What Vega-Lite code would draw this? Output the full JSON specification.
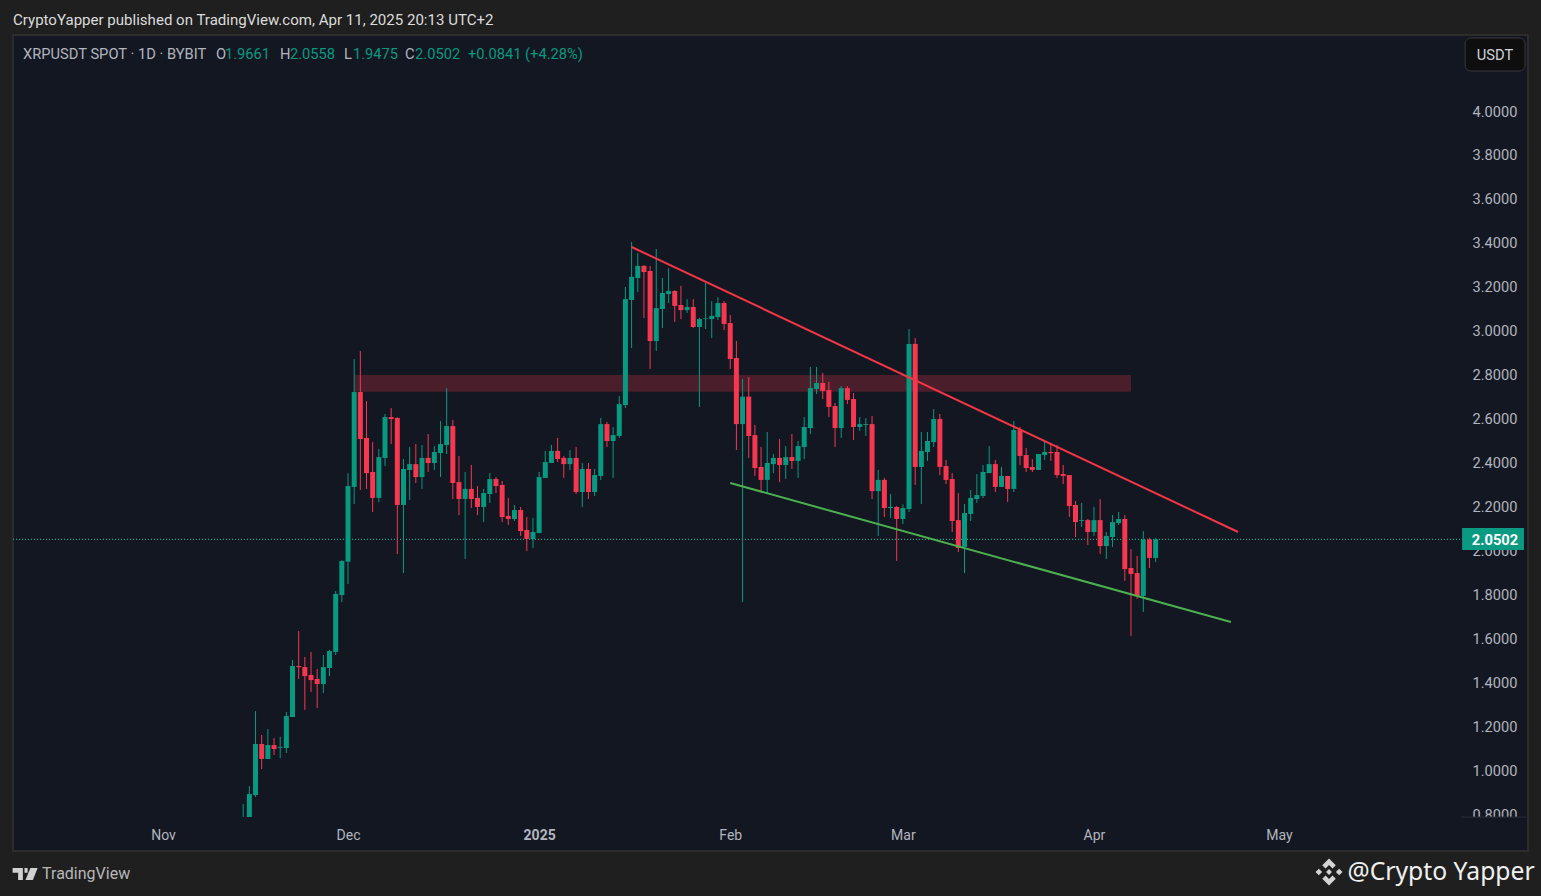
{
  "$schema": "https://vega.github.io/schema/vega-lite/v6.json",
  "width": 1515,
  "height": 816,
  "autosize": "none",
  "padding": {"left": 13, "top": 35, "right": 13, "bottom": 45},
  "background": "#1f1f1f",
  "title": {
    "text": "CryptoYapper published on TradingView.com, Apr 11, 2025 20:13 UTC+2",
    "anchor": "start",
    "frame": "group",
    "offset": 7,
    "font": "Roboto",
    "fontSize": 15.06,
    "fontWeight": "normal",
    "color": "#dcdcdc"
  },
  "config": {
    "view": {"fill": "#131722", "stroke": "#2c2c2c", "strokeWidth": 2},
    "axis": {"grid": false, "domain": false, "ticks": false, "title": null, "labelFont": "Roboto", "labelFontSize": 14, "labelColor": "#b2b5be"},
    "text": {"font": "Roboto", "fontSize": 14.7, "align": "left", "baseline": "middle"}
  },
  "datasets": {
    "candles": [
      {"date":"2024-11-14","open":0.74,"high":0.846,"low":0.73,"close":0.78},
      {"date":"2024-11-15","open":0.78,"high":0.928,"low":0.77,"close":0.891},
      {"date":"2024-11-16","open":0.887,"high":1.269,"low":0.878,"close":1.119},
      {"date":"2024-11-17","open":1.119,"high":1.16,"low":1.005,"close":1.051},
      {"date":"2024-11-18","open":1.051,"high":1.187,"low":1.051,"close":1.114},
      {"date":"2024-11-19","open":1.114,"high":1.146,"low":1.069,"close":1.096},
      {"date":"2024-11-20","open":1.102,"high":1.152,"low":1.055,"close":1.106},
      {"date":"2024-11-21","open":1.101,"high":1.265,"low":1.078,"close":1.246},
      {"date":"2024-11-22","open":1.242,"high":1.501,"low":1.242,"close":1.474},
      {"date":"2024-11-23","open":1.474,"high":1.633,"low":1.415,"close":1.469},
      {"date":"2024-11-24","open":1.469,"high":1.515,"low":1.274,"close":1.428},
      {"date":"2024-11-25","open":1.433,"high":1.538,"low":1.356,"close":1.41},
      {"date":"2024-11-26","open":1.415,"high":1.46,"low":1.283,"close":1.392},
      {"date":"2024-11-27","open":1.392,"high":1.524,"low":1.351,"close":1.469},
      {"date":"2024-11-28","open":1.465,"high":1.547,"low":1.428,"close":1.542},
      {"date":"2024-11-29","open":1.538,"high":1.815,"low":1.524,"close":1.802},
      {"date":"2024-11-30","open":1.797,"high":1.956,"low":1.765,"close":1.952},
      {"date":"2024-12-01","open":1.949,"high":2.351,"low":1.847,"close":2.293},
      {"date":"2024-12-02","open":2.289,"high":2.871,"low":2.211,"close":2.721},
      {"date":"2024-12-03","open":2.721,"high":2.908,"low":2.275,"close":2.507},
      {"date":"2024-12-04","open":2.512,"high":2.68,"low":2.28,"close":2.352},
      {"date":"2024-12-05","open":2.357,"high":2.493,"low":2.175,"close":2.239},
      {"date":"2024-12-06","open":2.239,"high":2.462,"low":2.22,"close":2.425},
      {"date":"2024-12-07","open":2.421,"high":2.621,"low":2.384,"close":2.607},
      {"date":"2024-12-08","open":2.607,"high":2.648,"low":2.484,"close":2.598},
      {"date":"2024-12-09","open":2.603,"high":2.607,"low":1.984,"close":2.207},
      {"date":"2024-12-10","open":2.207,"high":2.416,"low":1.897,"close":2.371},
      {"date":"2024-12-11","open":2.366,"high":2.471,"low":2.229,"close":2.393},
      {"date":"2024-12-12","open":2.393,"high":2.484,"low":2.307,"close":2.334},
      {"date":"2024-12-13","open":2.334,"high":2.48,"low":2.28,"close":2.421},
      {"date":"2024-12-14","open":2.421,"high":2.53,"low":2.357,"close":2.398},
      {"date":"2024-12-15","open":2.398,"high":2.475,"low":2.366,"close":2.448},
      {"date":"2024-12-16","open":2.443,"high":2.589,"low":2.334,"close":2.484},
      {"date":"2024-12-17","open":2.48,"high":2.739,"low":2.439,"close":2.566},
      {"date":"2024-12-18","open":2.566,"high":2.594,"low":2.234,"close":2.307},
      {"date":"2024-12-19","open":2.311,"high":2.43,"low":2.161,"close":2.234},
      {"date":"2024-12-20","open":2.234,"high":2.357,"low":1.961,"close":2.28},
      {"date":"2024-12-21","open":2.28,"high":2.389,"low":2.193,"close":2.234},
      {"date":"2024-12-22","open":2.239,"high":2.293,"low":2.161,"close":2.198},
      {"date":"2024-12-23","open":2.198,"high":2.28,"low":2.129,"close":2.261},
      {"date":"2024-12-24","open":2.257,"high":2.352,"low":2.216,"close":2.325},
      {"date":"2024-12-25","open":2.325,"high":2.334,"low":2.261,"close":2.293},
      {"date":"2024-12-26","open":2.298,"high":2.316,"low":2.129,"close":2.152},
      {"date":"2024-12-27","open":2.157,"high":2.239,"low":2.116,"close":2.143},
      {"date":"2024-12-28","open":2.143,"high":2.207,"low":2.134,"close":2.184},
      {"date":"2024-12-29","open":2.184,"high":2.198,"low":2.066,"close":2.088},
      {"date":"2024-12-30","open":2.093,"high":2.152,"low":1.997,"close":2.052},
      {"date":"2024-12-31","open":2.052,"high":2.148,"low":2.011,"close":2.084},
      {"date":"2025-01-01","open":2.079,"high":2.357,"low":2.079,"close":2.334},
      {"date":"2025-01-02","open":2.33,"high":2.453,"low":2.33,"close":2.402},
      {"date":"2025-01-03","open":2.398,"high":2.48,"low":2.398,"close":2.453},
      {"date":"2025-01-04","open":2.453,"high":2.512,"low":2.402,"close":2.416},
      {"date":"2025-01-05","open":2.421,"high":2.43,"low":2.33,"close":2.393},
      {"date":"2025-01-06","open":2.393,"high":2.457,"low":2.366,"close":2.421},
      {"date":"2025-01-07","open":2.421,"high":2.471,"low":2.257,"close":2.266},
      {"date":"2025-01-08","open":2.266,"high":2.398,"low":2.198,"close":2.371},
      {"date":"2025-01-09","open":2.371,"high":2.398,"low":2.234,"close":2.266},
      {"date":"2025-01-10","open":2.266,"high":2.371,"low":2.248,"close":2.343},
      {"date":"2025-01-11","open":2.339,"high":2.603,"low":2.321,"close":2.575},
      {"date":"2025-01-12","open":2.575,"high":2.585,"low":2.471,"close":2.498},
      {"date":"2025-01-13","open":2.498,"high":2.562,"low":2.33,"close":2.525},
      {"date":"2025-01-14","open":2.521,"high":2.703,"low":2.512,"close":2.666},
      {"date":"2025-01-15","open":2.662,"high":3.199,"low":2.648,"close":3.144},
      {"date":"2025-01-16","open":3.14,"high":3.404,"low":2.921,"close":3.245},
      {"date":"2025-01-17","open":3.24,"high":3.354,"low":3.176,"close":3.295},
      {"date":"2025-01-18","open":3.295,"high":3.299,"low":3.058,"close":3.267},
      {"date":"2025-01-19","open":3.272,"high":3.295,"low":2.826,"close":2.953},
      {"date":"2025-01-20","open":2.953,"high":3.372,"low":2.908,"close":3.103},
      {"date":"2025-01-21","open":3.099,"high":3.24,"low":3.012,"close":3.172},
      {"date":"2025-01-22","open":3.167,"high":3.285,"low":3.126,"close":3.181},
      {"date":"2025-01-23","open":3.181,"high":3.185,"low":3.04,"close":3.113},
      {"date":"2025-01-24","open":3.117,"high":3.204,"low":3.053,"close":3.094},
      {"date":"2025-01-25","open":3.094,"high":3.144,"low":3.081,"close":3.108},
      {"date":"2025-01-26","open":3.108,"high":3.144,"low":3.012,"close":3.017},
      {"date":"2025-01-27","open":3.017,"high":3.058,"low":2.653,"close":3.053},
      {"date":"2025-01-28","open":3.053,"high":3.217,"low":3.008,"close":3.056},
      {"date":"2025-01-29","open":3.053,"high":3.135,"low":2.967,"close":3.067},
      {"date":"2025-01-30","open":3.062,"high":3.153,"low":3.049,"close":3.126},
      {"date":"2025-01-31","open":3.126,"high":3.135,"low":3.003,"close":3.031},
      {"date":"2025-02-01","open":3.035,"high":3.072,"low":2.826,"close":2.871},
      {"date":"2025-02-02","open":2.876,"high":2.953,"low":2.457,"close":2.575},
      {"date":"2025-02-03","open":2.575,"high":2.78,"low":1.765,"close":2.7},
      {"date":"2025-02-04","open":2.7,"high":2.789,"low":2.421,"close":2.521},
      {"date":"2025-02-05","open":2.525,"high":2.571,"low":2.339,"close":2.375},
      {"date":"2025-02-06","open":2.38,"high":2.471,"low":2.27,"close":2.321},
      {"date":"2025-02-07","open":2.321,"high":2.539,"low":2.261,"close":2.398},
      {"date":"2025-02-08","open":2.393,"high":2.439,"low":2.352,"close":2.421},
      {"date":"2025-02-09","open":2.421,"high":2.507,"low":2.311,"close":2.389},
      {"date":"2025-02-10","open":2.389,"high":2.475,"low":2.325,"close":2.425},
      {"date":"2025-02-11","open":2.425,"high":2.53,"low":2.371,"close":2.407},
      {"date":"2025-02-12","open":2.407,"high":2.498,"low":2.33,"close":2.475},
      {"date":"2025-02-13","open":2.471,"high":2.607,"low":2.416,"close":2.562},
      {"date":"2025-02-14","open":2.557,"high":2.835,"low":2.53,"close":2.739},
      {"date":"2025-02-15","open":2.735,"high":2.835,"low":2.712,"close":2.762},
      {"date":"2025-02-16","open":2.762,"high":2.808,"low":2.689,"close":2.726},
      {"date":"2025-02-17","open":2.73,"high":2.767,"low":2.607,"close":2.653},
      {"date":"2025-02-18","open":2.657,"high":2.671,"low":2.471,"close":2.557},
      {"date":"2025-02-19","open":2.557,"high":2.748,"low":2.512,"close":2.739},
      {"date":"2025-02-20","open":2.739,"high":2.748,"low":2.666,"close":2.685},
      {"date":"2025-02-21","open":2.689,"high":2.717,"low":2.503,"close":2.562},
      {"date":"2025-02-22","open":2.562,"high":2.607,"low":2.544,"close":2.575},
      {"date":"2025-02-23","open":2.571,"high":2.603,"low":2.521,"close":2.575},
      {"date":"2025-02-24","open":2.575,"high":2.612,"low":2.234,"close":2.27},
      {"date":"2025-02-25","open":2.27,"high":2.366,"low":2.066,"close":2.321},
      {"date":"2025-02-26","open":2.321,"high":2.33,"low":2.152,"close":2.193},
      {"date":"2025-02-27","open":2.193,"high":2.257,"low":2.148,"close":2.198},
      {"date":"2025-02-28","open":2.198,"high":2.202,"low":1.952,"close":2.143},
      {"date":"2025-03-01","open":2.143,"high":2.21,"low":2.12,"close":2.193},
      {"date":"2025-03-02","open":2.189,"high":3.008,"low":2.175,"close":2.94},
      {"date":"2025-03-03","open":2.94,"high":2.967,"low":2.298,"close":2.38},
      {"date":"2025-03-04","open":2.38,"high":2.539,"low":2.211,"close":2.453},
      {"date":"2025-03-05","open":2.448,"high":2.539,"low":2.407,"close":2.498},
      {"date":"2025-03-06","open":2.493,"high":2.644,"low":2.471,"close":2.598},
      {"date":"2025-03-07","open":2.598,"high":2.621,"low":2.343,"close":2.38},
      {"date":"2025-03-08","open":2.384,"high":2.412,"low":2.302,"close":2.321},
      {"date":"2025-03-09","open":2.325,"high":2.352,"low":2.084,"close":2.134},
      {"date":"2025-03-10","open":2.138,"high":2.261,"low":1.993,"close":2.011},
      {"date":"2025-03-11","open":2.016,"high":2.211,"low":1.897,"close":2.17},
      {"date":"2025-03-12","open":2.166,"high":2.275,"low":2.134,"close":2.239},
      {"date":"2025-03-13","open":2.234,"high":2.348,"low":2.216,"close":2.252},
      {"date":"2025-03-14","open":2.248,"high":2.389,"low":2.239,"close":2.357},
      {"date":"2025-03-15","open":2.352,"high":2.475,"low":2.352,"close":2.393},
      {"date":"2025-03-16","open":2.393,"high":2.412,"low":2.266,"close":2.289},
      {"date":"2025-03-17","open":2.289,"high":2.38,"low":2.289,"close":2.339},
      {"date":"2025-03-18","open":2.339,"high":2.339,"low":2.22,"close":2.28},
      {"date":"2025-03-19","open":2.28,"high":2.589,"low":2.266,"close":2.548},
      {"date":"2025-03-20","open":2.548,"high":2.562,"low":2.389,"close":2.43},
      {"date":"2025-03-21","open":2.434,"high":2.466,"low":2.357,"close":2.375},
      {"date":"2025-03-22","open":2.38,"high":2.416,"low":2.357,"close":2.366},
      {"date":"2025-03-23","open":2.366,"high":2.439,"low":2.366,"close":2.439},
      {"date":"2025-03-24","open":2.434,"high":2.503,"low":2.412,"close":2.448},
      {"date":"2025-03-25","open":2.448,"high":2.484,"low":2.407,"close":2.443},
      {"date":"2025-03-26","open":2.448,"high":2.48,"low":2.33,"close":2.343},
      {"date":"2025-03-27","open":2.348,"high":2.389,"low":2.302,"close":2.339},
      {"date":"2025-03-28","open":2.343,"high":2.343,"low":2.152,"close":2.202},
      {"date":"2025-03-29","open":2.207,"high":2.225,"low":2.061,"close":2.129},
      {"date":"2025-03-30","open":2.134,"high":2.216,"low":2.107,"close":2.138},
      {"date":"2025-03-31","open":2.138,"high":2.143,"low":2.025,"close":2.084},
      {"date":"2025-04-01","open":2.084,"high":2.198,"low":2.066,"close":2.138},
      {"date":"2025-04-02","open":2.138,"high":2.234,"low":1.984,"close":2.02},
      {"date":"2025-04-03","open":2.02,"high":2.084,"low":1.961,"close":2.066},
      {"date":"2025-04-04","open":2.061,"high":2.161,"low":2.016,"close":2.129},
      {"date":"2025-04-05","open":2.125,"high":2.175,"low":2.116,"close":2.143},
      {"date":"2025-04-06","open":2.143,"high":2.161,"low":1.861,"close":1.915},
      {"date":"2025-04-07","open":1.92,"high":2.006,"low":1.61,"close":1.893},
      {"date":"2025-04-08","open":1.897,"high":1.975,"low":1.779,"close":1.793},
      {"date":"2025-04-09","open":1.793,"high":2.088,"low":1.72,"close":2.05},
      {"date":"2025-04-10","open":2.05,"high":2.057,"low":1.92,"close":1.966},
      {"date":"2025-04-11","open":1.9661,"high":2.0558,"low":1.9475,"close":2.0502}
    ],
    "trendlines": [
      {"trend":"resistance","date":"2025-01-16","price":3.381},
      {"trend":"resistance","date":"2025-04-24T09:00:00Z","price":2.084},
      {"trend":"support","date":"2025-02-01","price":2.307},
      {"trend":"support","date":"2025-04-23T05:00:00Z","price":1.674}
    ],
    "zones": [
      {"from":"2024-12-02","to":"2025-04-07","top":2.798,"bottom":2.722}
    ]
  },
  "data": {"name": "candles"},
  "layer": [
    {
      "data": {"name": "zones"},
      "mark": {"type": "rect", "color": "#4a1f2b"},
      "encoding": {
        "x": {
          "field": "from",
          "type": "temporal",
          "scale": {
            "type": "utc",
            "padding": 0,
            "domain": [
              {"year": 2024, "month": 10, "date": 7, "hours": 15, "minutes": 50, "utc": true},
              {"year": 2025, "month": 6, "date": 10, "hours": 9, "minutes": 36, "utc": true}
            ]
          },
          "axis": {
            "orient": "bottom",
            "offset": -34,
            "labelPadding": 11,
            "zindex": 1,
            "labelOverlap": false,
            "labelFlush": false,
            "values": [
              {"year": 2024, "month": 11, "date": 1, "utc": true},
              {"year": 2024, "month": 12, "date": 1, "utc": true},
              {"year": 2025, "month": 1, "date": 1, "utc": true},
              {"year": 2025, "month": 2, "date": 1, "utc": true},
              {"year": 2025, "month": 3, "date": 1, "utc": true},
              {"year": 2025, "month": 4, "date": 1, "utc": true},
              {"year": 2025, "month": 5, "date": 1, "utc": true}
            ],
            "labelExpr": "utcmonth(datum.value)==0 ? '2025' : utcFormat(datum.value,'%b')",
            "labelFontWeight": {"condition": {"test": "utcmonth(datum.value)==0", "value": "bold"}, "value": "normal"}
          }
        },
        "x2": {"field": "to"},
        "y": {
          "field": "top",
          "type": "quantitative",
          "scale": {"domain": [0.632, 4.346], "nice": false, "zero": false, "padding": 0},
          "axis": {
            "orient": "right",
            "offset": -69,
            "labelPadding": 13,
            "labelOffset": 1,
            "labelAlign": "left",
            "labelOverlap": false,
            "labelFlush": false,
            "labelFontSize": 14.6,
            "format": ".4f",
            "zindex": 0,
            "values": [0.8, 1, 1.2, 1.4, 1.6, 1.8, 2, 2.2, 2.4, 2.6, 2.8, 3, 3.2, 3.4, 3.6, 3.8, 4]
          }
        },
        "y2": {"field": "bottom"}
      }
    },
    {
      "data": {"values": [{}]},
      "mark": {"type": "rule", "color": "#0aa88e", "strokeWidth": 1.4, "strokeDash": [1, 2]},
      "encoding": {
        "x": {"datum": {"year": 2024, "month": 10, "date": 7, "hours": 15, "minutes": 50, "utc": true}, "type": "temporal"},
        "x2": {"datum": {"year": 2025, "month": 5, "date": 30, "hours": 12, "utc": true}},
        "y": {"datum": 2.0502, "type": "quantitative"}
      }
    },
    {
      "mark": {"type": "rule", "strokeWidth": 1},
      "encoding": {
        "x": {"field": "date", "type": "temporal"},
        "y": {"field": "high", "type": "quantitative"},
        "y2": {"field": "low"},
        "color": {"condition": {"test": "datum.close >= datum.open", "value": "#089981"}, "value": "#f7374f"}
      }
    },
    {
      "mark": {"type": "bar", "width": 5},
      "encoding": {
        "x": {"field": "date", "type": "temporal"},
        "y": {"field": "open", "type": "quantitative"},
        "y2": {"field": "close"},
        "color": {"condition": {"test": "datum.close >= datum.open", "value": "#089981"}, "value": "#f7374f"}
      }
    },
    {
      "data": {"values": [{}]},
      "layer": [
        {
          "mark": {"type": "rect", "color": "#131722"},
          "encoding": {
            "x": {"datum": {"year": 2024, "month": 10, "date": 7, "hours": 22, "utc": true}, "type": "temporal"},
            "x2": {"datum": {"year": 2025, "month": 6, "date": 10, "hours": 4, "utc": true}},
            "y": {"datum": 0.7865, "type": "quantitative"},
            "y2": {"datum": 0.638}
          }
        },
        {
          "mark": {"type": "rule", "color": "#2a2e39", "strokeWidth": 1},
          "encoding": {
            "x": {"datum": {"year": 2025, "month": 5, "date": 30, "hours": 12, "utc": true}, "type": "temporal"},
            "x2": {"datum": {"year": 2025, "month": 6, "date": 10, "hours": 4, "utc": true}},
            "y": {"datum": 0.7865, "type": "quantitative"}
          }
        }
      ]
    },
    {
      "data": {"name": "trendlines"},
      "mark": {"type": "line", "strokeWidth": 2},
      "encoding": {
        "x": {"field": "date", "type": "temporal"},
        "y": {"field": "price", "type": "quantitative"},
        "detail": {"field": "trend"},
        "color": {
          "field": "trend",
          "type": "nominal",
          "legend": null,
          "scale": {"domain": ["resistance", "support"], "range": ["#f23645", "#4caf50"]}
        }
      }
    },
    {
      "data": {"values": [{}]},
      "layer": [
        {
          "mark": {"type": "rect", "color": "#0a9981"},
          "encoding": {
            "x": {"datum": {"year": 2025, "month": 5, "date": 30, "hours": 17, "utc": true}, "type": "temporal"},
            "x2": {"datum": {"year": 2025, "month": 6, "date": 9, "hours": 18, "utc": true}},
            "y": {"datum": 2.1019, "type": "quantitative"},
            "y2": {"datum": 2.0018}
          }
        },
        {
          "mark": {"type": "text", "align": "center", "fontWeight": "bold", "color": "#ffffff", "dy": 1.5},
          "encoding": {
            "x": {"datum": {"year": 2025, "month": 6, "date": 5, "hours": 1, "utc": true}, "type": "temporal"},
            "y": {"datum": 2.0502, "type": "quantitative"},
            "text": {"value": "2.0502"}
          }
        },
        {
          "mark": {"type": "rect", "color": "#0e0e0e", "stroke": "#3a3a3a", "strokeWidth": 1, "cornerRadius": 6},
          "encoding": {
            "x": {"datum": {"year": 2025, "month": 5, "date": 31, "hours": 5, "utc": true}, "type": "temporal"},
            "x2": {"datum": {"year": 2025, "month": 6, "date": 9, "hours": 22, "utc": true}},
            "y": {"datum": 4.3323, "type": "quantitative"},
            "y2": {"datum": 4.1821}
          }
        },
        {
          "mark": {"type": "text", "align": "center", "color": "#d1d4dc"},
          "encoding": {
            "x": {"datum": {"year": 2025, "month": 6, "date": 5, "hours": 1, "utc": true}, "type": "temporal"},
            "y": {"datum": 4.2525, "type": "quantitative"},
            "text": {"value": "USDT"}
          }
        }
      ]
    },
    {
      "data": {"values": [{}]},
      "encoding": {"y": {"datum": 4.257, "type": "quantitative"}},
      "layer": [
        {"mark": {"type": "text", "color": "#b2b5be"}, "encoding": {"x": {"datum": {"year": 2024, "month": 10, "date": 9, "hours": 7, "utc": true}, "type": "temporal"}, "text": {"value": "XRPUSDT SPOT · 1D · BYBIT"}}},
        {"mark": {"type": "text", "color": "#b2b5be"}, "encoding": {"x": {"datum": {"year": 2024, "month": 11, "date": 9, "hours": 14, "utc": true}, "type": "temporal"}, "text": {"value": "O"}}},
        {"mark": {"type": "text", "color": "#089981"}, "encoding": {"x": {"datum": {"year": 2024, "month": 11, "date": 11, "hours": 1, "utc": true}, "type": "temporal"}, "text": {"value": "1.9661"}}},
        {"mark": {"type": "text", "color": "#b2b5be"}, "encoding": {"x": {"datum": {"year": 2024, "month": 11, "date": 19, "hours": 23, "utc": true}, "type": "temporal"}, "text": {"value": "H"}}},
        {"mark": {"type": "text", "color": "#089981"}, "encoding": {"x": {"datum": {"year": 2024, "month": 11, "date": 21, "hours": 14, "utc": true}, "type": "temporal"}, "text": {"value": "2.0558"}}},
        {"mark": {"type": "text", "color": "#b2b5be"}, "encoding": {"x": {"datum": {"year": 2024, "month": 11, "date": 30, "hours": 8, "utc": true}, "type": "temporal"}, "text": {"value": "L"}}},
        {"mark": {"type": "text", "color": "#089981"}, "encoding": {"x": {"datum": {"year": 2024, "month": 12, "date": 1, "hours": 19, "utc": true}, "type": "temporal"}, "text": {"value": "1.9475"}}},
        {"mark": {"type": "text", "color": "#b2b5be"}, "encoding": {"x": {"datum": {"year": 2024, "month": 12, "date": 10, "hours": 6, "utc": true}, "type": "temporal"}, "text": {"value": "C"}}},
        {"mark": {"type": "text", "color": "#089981"}, "encoding": {"x": {"datum": {"year": 2024, "month": 12, "date": 11, "hours": 21, "utc": true}, "type": "temporal"}, "text": {"value": "2.0502"}}},
        {"mark": {"type": "text", "color": "#089981"}, "encoding": {"x": {"datum": {"year": 2024, "month": 12, "date": 20, "hours": 11, "utc": true}, "type": "temporal"}, "text": {"value": "+0.0841 (+4.28%)"}}}
      ]
    },
    {
      "data": {"values": [{}]},
      "layer": [
        {
          "mark": {"type": "point", "filled": true, "opacity": 1, "color": "#d1d1d1", "size": 625, "shape": "M-1,-0.48 H-0.18 V0.48 H-0.56 V-0.1 H-1 Z M-0.05,-0.48 H0.2 V-0.1 H-0.05 Z M0.42,-0.48 H1 L0.62,0.48 H0.03 Z"},
          "encoding": {
            "x": {"datum": {"year": 2024, "month": 10, "date": 9, "hours": 15, "utc": true}, "type": "temporal"},
            "y": {"datum": 0.5271, "type": "quantitative"}
          }
        },
        {
          "mark": {"type": "text", "color": "#b8b8b8", "fontSize": 16},
          "encoding": {
            "x": {"datum": {"year": 2024, "month": 10, "date": 12, "hours": 9, "utc": true}, "type": "temporal"},
            "y": {"datum": 0.5271, "type": "quantitative"},
            "text": {"value": "TradingView"}
          }
        },
        {
          "mark": {"type": "point", "filled": true, "opacity": 1, "color": "#d4d4d4", "size": 729, "shape": "M0,-1 L0.5,-0.5 L0.26,-0.26 L0,-0.52 L-0.26,-0.26 L-0.5,-0.5 Z M0,1 L0.5,0.5 L0.26,0.26 L0,0.52 L-0.26,0.26 L-0.5,0.5 Z M0,-0.22 L0.22,0 L0,0.22 L-0.22,0 Z M-0.75,-0.24 L-0.51,0 L-0.75,0.24 L-1,0 Z M0.75,-0.24 L1,0 L0.75,0.24 L0.51,0 Z"},
          "encoding": {
            "x": {"datum": {"year": 2025, "month": 5, "date": 9, "hours": 3, "utc": true}, "type": "temporal"},
            "y": {"datum": 0.5362, "type": "quantitative"}
          }
        },
        {
          "mark": {"type": "text", "font": "Noto Sans", "fontSize": 24.7, "color": "#f0f0f0"},
          "encoding": {
            "x": {"datum": {"year": 2025, "month": 5, "date": 12, "hours": 3, "utc": true}, "type": "temporal"},
            "y": {"datum": 0.5316, "type": "quantitative"},
            "text": {"value": "@Crypto Yapper"}
          }
        }
      ]
    }
  ]
}
